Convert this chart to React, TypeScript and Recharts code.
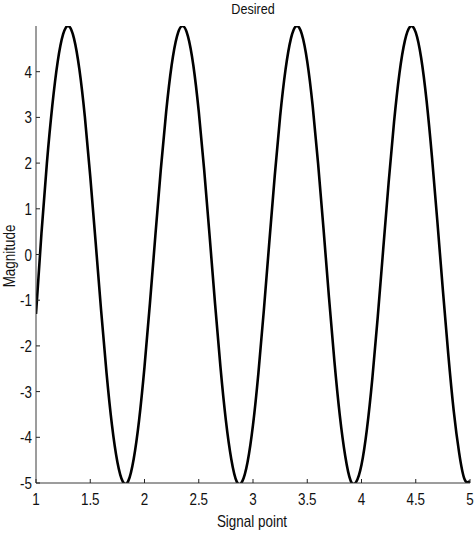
import React from "react";
import { LineChart, Line, XAxis, YAxis } from "recharts";

const xValues = [
  1.0, 1.05, 1.1, 1.15, 1.2, 1.25, 1.3, 1.35, 1.4, 1.45, 1.5, 1.55, 1.6, 1.65, 1.7, 1.75, 1.8, 1.85, 1.9, 1.95,
  2.0, 2.05, 2.1, 2.15, 2.2, 2.25, 2.3, 2.35, 2.4, 2.45, 2.5, 2.55, 2.6, 2.65, 2.7, 2.75, 2.8, 2.85, 2.9, 2.95,
  3.0, 3.05, 3.1, 3.15, 3.2, 3.25, 3.3, 3.35, 3.4, 3.45, 3.5, 3.55, 3.6, 3.65, 3.7, 3.75, 3.8, 3.85, 3.9, 3.95,
  4.0, 4.05, 4.1, 4.15, 4.2, 4.25, 4.3, 4.35, 4.4, 4.45, 4.5, 4.55, 4.6, 4.65, 4.7, 4.75, 4.8, 4.85, 4.9, 4.95,
  5.0,
];

const magnitude = [
  -1.3, 0.45, 1.99, 3.25, 4.22, 4.82, 5.0, 4.73, 4.05, 3.02, 1.71, 0.26, -1.22, -2.59, -3.73, -4.54, -4.97, -4.96, -4.48, -3.63,
  -2.46, -1.07, 0.41, 1.85, 3.13, 4.14, 4.78, 5.0, 4.78, 4.14, 3.13, 1.85, 0.41, -1.07, -2.46, -3.63, -4.48, -4.97, -4.97, -4.54,
  -3.73, -2.59, -1.22, 0.26, 1.71, 3.02, 4.05, 4.73, 5.0, 4.82, 4.22, 3.25, 1.99, 0.56, -0.93, -2.33, -3.52, -4.41, -4.95, -4.98,
  -4.6, -3.82, -2.71, -1.36, 0.11, 1.57, 2.9, 3.97, 4.68, 4.99, 4.86, 4.3, 3.36, 2.12, 0.7, -0.78, -2.19, -3.42, -4.34, -4.92,
  -4.96,
];

const xTicks = [1, 1.5, 2, 2.5, 3, 3.5, 4, 4.5, 5];
const yTicks = [-5, -4, -3, -2, -1, 0, 1, 2, 3, 4];

const titleText = "Desired";
const xLabelText = "Signal point";
const yLabelText = "Magnitude";

const data = xValues.map((x, i) => ({ x, y: magnitude[i] }));

const FONT = "'Liberation Sans', Arial, sans-serif";
const NARROW = 0.84;
const AXIS_COLOR = "#3a3a3a";

const BottomTick = (props: any) => {
  const { x, y, payload } = props;
  return (
    <g>
      <line x1={x} y1={y} x2={x} y2={y - 4} stroke="#222" strokeWidth={1} />
      <text
        transform={`translate(${x},${y + 22}) scale(${NARROW},1)`}
        textAnchor="middle"
        fontFamily={FONT}
        fontSize={16}
        fill="#111"
      >
        {String(payload.value)}
      </text>
    </g>
  );
};

const TopTick = (props: any) => {
  const { x, y } = props;
  return <line x1={x} y1={y} x2={x} y2={y + 4} stroke="#222" strokeWidth={1} />;
};

const LeftTick = (props: any) => {
  const { x, y, payload } = props;
  return (
    <g>
      <line x1={x} y1={y} x2={x + 4} y2={y} stroke="#222" strokeWidth={1} />
      <text
        transform={`translate(${x - 4},${y + 6}) scale(${NARROW},1)`}
        textAnchor="end"
        fontFamily={FONT}
        fontSize={16}
        fill="#111"
      >
        {String(payload.value)}
      </text>
    </g>
  );
};

const RightTick = (props: any) => {
  const { x, y } = props;
  return <line x1={x} y1={y} x2={x - 4} y2={y} stroke="#222" strokeWidth={1} />;
};

export default function App() {
  return (
    <div style={{ position: "absolute", left: 0, top: 0, width: 474, height: 533, background: "#fff" }}>
      <LineChart width={474} height={533} data={data} margin={{ top: 26, right: 4, bottom: 0, left: 0 }}>
        <XAxis
          dataKey="x"
          type="number"
          domain={[1, 5]}
          ticks={xTicks}
          interval={0}
          height={50}
          tickSize={0}
          tickMargin={0}
          tickLine={false}
          axisLine={{ stroke: AXIS_COLOR, strokeWidth: 1 }}
          tick={<BottomTick />}
          allowDataOverflow
        />
        <XAxis
          xAxisId="top"
          orientation="top"
          dataKey="x"
          type="number"
          domain={[1, 5]}
          ticks={xTicks}
          interval={0}
          height={0}
          tickSize={0}
          tickMargin={0}
          tickLine={false}
          axisLine={{ stroke: AXIS_COLOR, strokeWidth: 1 }}
          tick={<TopTick />}
          allowDataOverflow
        />
        <YAxis
          type="number"
          domain={[-5, 5]}
          ticks={yTicks}
          interval={0}
          width={36}
          tickSize={0}
          tickMargin={0}
          tickLine={false}
          axisLine={{ stroke: AXIS_COLOR, strokeWidth: 1 }}
          tick={<LeftTick />}
          allowDataOverflow
        />
        <YAxis
          yAxisId="right"
          orientation="right"
          type="number"
          domain={[-5, 5]}
          ticks={yTicks}
          interval={0}
          width={0}
          tickSize={0}
          tickMargin={0}
          tickLine={false}
          axisLine={{ stroke: AXIS_COLOR, strokeWidth: 1 }}
          tick={<RightTick />}
          allowDataOverflow
        />
        <Line
          dataKey="y"
          type="natural"
          stroke="#000"
          strokeWidth={2.6}
          dot={false}
          isAnimationActive={false}
        />
      </LineChart>
      <svg
        width={474}
        height={533}
        style={{ position: "absolute", left: 0, top: 0, pointerEvents: "none" }}
      >
        <text
          transform={`translate(253,14) scale(${NARROW},1)`}
          textAnchor="middle"
          fontFamily={FONT}
          fontSize={15}
          fill="#111"
        >
          {titleText}
        </text>
        <text
          transform={`translate(252,527) scale(${NARROW},1)`}
          textAnchor="middle"
          fontFamily={FONT}
          fontSize={16}
          fill="#111"
        >
          {xLabelText}
        </text>
        <text
          transform={`translate(15,256) rotate(-90) scale(${NARROW},1)`}
          textAnchor="middle"
          fontFamily={FONT}
          fontSize={16}
          fill="#111"
        >
          {yLabelText}
        </text>
      </svg>
    </div>
  );
}
